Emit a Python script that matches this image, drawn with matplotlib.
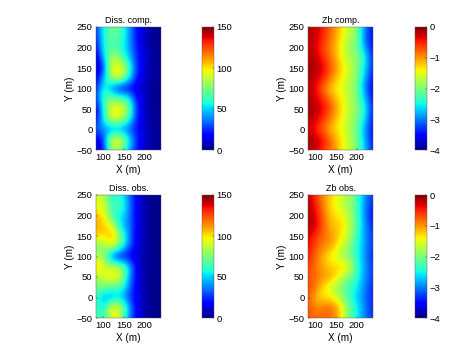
import numpy as np
import matplotlib
matplotlib.use("Agg")
import matplotlib.pyplot as plt

plt.rcParams['font.family'] = ['Liberation Sans', 'DejaVu Sans']
plt.rcParams['font.size'] = 6.8

# grid of the maps (m)
x_nodes = [82, 102, 122, 142, 162, 182, 202, 222, 240]
y_nodes = [250, 225, 200, 175, 150, 125, 100, 75, 50, 25, 0, -25, -50]

# Dissipation, values
diss_comp = [
    [25, 60, 72, 68, 45, 18, 8, 3, 2],
    [22, 60, 72, 68, 45, 20, 8, 3, 2],
    [15, 60, 65, 60, 45, 22, 10, 3, 2],
    [10, 50, 90, 70, 50, 25, 10, 4, 2],
    [5, 30, 100, 100, 70, 25, 10, 4, 2],
    [12, 45, 90, 95, 60, 22, 10, 4, 2],
    [20, 65, 30, 14, 14, 13, 8, 3, 2],
    [25, 70, 75, 70, 60, 20, 8, 3, 2],
    [10, 60, 100, 100, 80, 25, 9, 3, 2],
    [15, 60, 95, 90, 65, 22, 9, 3, 2],
    [35, 40, 35, 35, 30, 22, 10, 4, 2],
    [8, 30, 100, 100, 60, 25, 10, 4, 2],
    [5, 25, 85, 75, 45, 22, 10, 4, 2],
]
diss_obs = [
    [90, 88, 55, 60, 38, 15, 6, 2, 1],
    [95, 90, 60, 70, 42, 15, 6, 2, 1],
    [105, 100, 60, 55, 40, 15, 6, 2, 1],
    [110, 105, 95, 50, 40, 16, 6, 2, 1],
    [105, 100, 110, 80, 40, 15, 6, 2, 1],
    [70, 80, 95, 70, 38, 14, 6, 2, 1],
    [85, 80, 25, 15, 15, 10, 5, 2, 1],
    [110, 90, 90, 85, 55, 15, 5, 2, 1],
    [80, 95, 100, 95, 45, 15, 5, 2, 1],
    [70, 75, 65, 65, 40, 15, 5, 2, 1],
    [65, 40, 40, 50, 30, 15, 6, 2, 1],
    [65, 55, 105, 90, 50, 15, 6, 2, 1],
    [70, 55, 100, 85, 40, 15, 6, 2, 1],
]

# Bed level Zb
zb_comp = [
    [-0.15, -0.25, -0.55, -0.85, -1.25, -1.65, -1.9, -3.0, -3.5],
    [-0.15, -0.25, -0.55, -0.9, -1.3, -1.7, -1.95, -3.1, -3.5],
    [-0.2, -0.35, -0.7, -1.0, -1.4, -1.9, -2.0, -2.9, -3.5],
    [-0.15, -0.25, -0.6, -0.9, -1.4, -1.75, -1.9, -2.5, -3.4],
    [-0.1, -0.15, -0.4, -0.8, -1.2, -1.6, -1.9, -2.6, -3.4],
    [-0.15, -0.25, -0.5, -0.95, -1.35, -1.65, -1.95, -2.8, -3.5],
    [-0.2, -0.4, -0.9, -1.3, -1.5, -1.7, -2.0, -3.0, -3.6],
    [-0.15, -0.3, -0.6, -1.0, -1.35, -1.7, -2.0, -2.7, -3.5],
    [-0.1, -0.2, -0.4, -0.8, -1.25, -1.65, -1.9, -2.5, -3.4],
    [-0.15, -0.3, -0.6, -1.0, -1.4, -1.7, -2.0, -2.6, -3.5],
    [-0.3, -0.5, -0.9, -1.2, -1.45, -1.7, -2.1, -2.9, -3.5],
    [-0.1, -0.2, -0.45, -0.9, -1.3, -1.65, -2.0, -2.8, -3.5],
    [-0.15, -0.3, -0.6, -0.9, -1.3, -1.65, -2.0, -2.7, -3.4],
]
zb_obs = [
    [-0.2, -0.6, -1.0, -1.3, -1.55, -1.8, -2.2, -2.9, -3.3],
    [-0.15, -0.5, -0.95, -1.4, -1.6, -1.85, -2.2, -3.0, -3.4],
    [-0.1, -0.35, -0.9, -1.25, -1.35, -1.7, -2.2, -3.0, -3.5],
    [-0.1, -0.3, -0.8, -1.2, -1.25, -1.6, -2.2, -2.9, -3.4],
    [-0.3, -0.6, -0.85, -1.0, -1.3, -1.7, -2.3, -2.9, -3.3],
    [-0.35, -0.75, -0.9, -1.1, -1.55, -1.9, -2.4, -2.9, -3.3],
    [-0.5, -0.8, -1.2, -1.5, -1.75, -2.0, -2.4, -2.9, -3.4],
    [-0.6, -0.85, -1.15, -1.25, -1.2, -1.4, -2.3, -2.9, -3.3],
    [-0.7, -0.85, -0.95, -1.1, -1.6, -2.0, -2.4, -2.9, -3.3],
    [-0.6, -0.9, -1.4, -1.7, -2.0, -2.3, -2.5, -3.0, -3.4],
    [-0.7, -1.2, -1.35, -1.4, -1.8, -2.3, -2.7, -3.0, -3.4],
    [-0.7, -0.95, -0.8, -0.8, -1.2, -2.0, -2.5, -3.0, -3.4],
    [-0.7, -0.85, -0.8, -0.85, -1.3, -2.1, -2.5, -3.0, -3.3],
]

x_ticks = [100, 150, 200]
y_ticks = [-50, 0, 50, 100, 150, 200, 250]
diss_ticks = [0, 50, 100, 150]
zb_ticks = [-4, -3, -2, -1, 0]

W, H = 474, 357
fig = plt.figure(figsize=(W / 100, H / 100), dpi=100)


def rect(l, t, r, b):
    return [l / W, 1 - b / H, (r - l) / W, (b - t) / H]


def panel(box, cbox, data, title, vmin, vmax, cticks):
    ax = fig.add_axes(rect(*box))
    dx = 20
    dy = 25
    im = ax.imshow(np.array(data), cmap='jet', vmin=vmin, vmax=vmax, aspect='auto',
                   interpolation='bicubic',
                   extent=[x_nodes[0] - dx / 2, x_nodes[-1] + dx / 2,
                           y_nodes[-1] - dy / 2, y_nodes[0] + dy / 2])
    ax.set_xlim(x_nodes[0], x_nodes[-1])
    ax.set_ylim(y_nodes[-1], y_nodes[0])
    ax.set_xticks(x_ticks)
    ax.set_yticks(y_ticks)
    ax.tick_params(direction='in', length=1.5, width=0.3, pad=2.5, color='#333333')
    ax.set_xlabel('X (m)', labelpad=1.5, fontsize=7.2)
    ax.set_ylabel('Y (m)', labelpad=1, fontsize=7.2)
    ax.set_title(title, pad=3, fontsize=6.5)
    for s in ax.spines.values():
        s.set_linewidth(0.3)
        s.set_color('#555555')

    cax = fig.add_axes(rect(*cbox))
    cb = fig.colorbar(im, cax=cax, ticks=cticks)
    cb.ax.tick_params(direction='in', length=1.5, width=0.3, pad=2, color='#333333')
    cb.outline.set_linewidth(0.3)
    cb.outline.set_edgecolor('#555555')


panel((96, 27, 161, 150), (202, 27, 214, 150), diss_comp, 'Diss. comp.', 0, 150, diss_ticks)
panel((308, 27, 373, 150), (415, 27, 427, 150), zb_comp, 'Zb comp.', -4, 0, zb_ticks)
panel((96, 195, 161, 318), (202, 195, 214, 318), diss_obs, 'Diss. obs.', 0, 150, diss_ticks)
panel((308, 195, 373, 318), (415, 195, 427, 318), zb_obs, 'Zb obs.', -4, 0, zb_ticks)

fig.savefig('out.png', dpi=100)
